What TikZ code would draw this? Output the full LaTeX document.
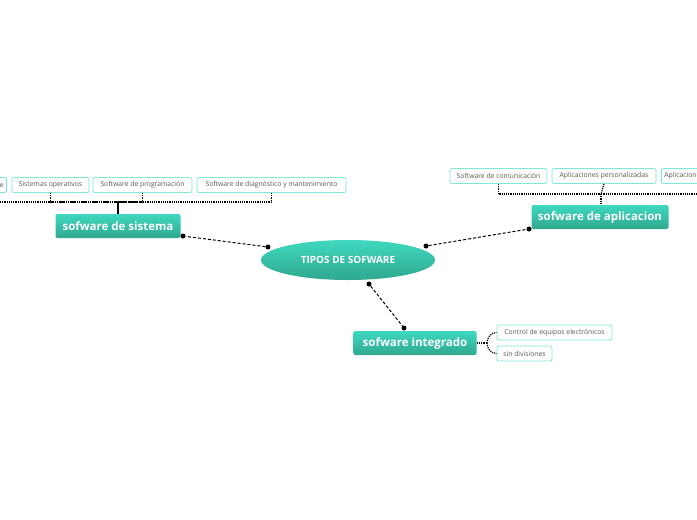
\documentclass[tikz,border=0pt]{standalone}
\usepackage{fontspec}
\setmainfont{Open Sans}
\usetikzlibrary{shapes.geometric,shadows}
\definecolor{tq}{HTML}{3FD8C0}
\definecolor{tqd}{HTML}{2FA88E}
\definecolor{tql}{HTML}{7FE8D8}
\tikzset{
 main/.style={rounded corners=2pt,top color=tq,bottom color=tqd,draw=none,text=white,font=\bfseries\fontsize{11.5}{12}\selectfont,minimum height=24pt,inner xsep=5pt},
 leaf/.style={rounded corners=2pt,draw=tql,line width=0.8pt,fill=white,text=black!65,font=\fontsize{6.8}{7}\selectfont,minimum height=15pt,inner xsep=3pt},
 link/.style={densely dashed,line width=1pt,black},
 brk/.style={densely dotted,line width=1.2pt,black},
 dot/.style={circle,fill=black,inner sep=0pt,minimum size=5pt}
}
\begin{document}
\begin{tikzpicture}[x=1pt,y=-1pt]
\useasboundingbox (0,0) rectangle (697,520);
\clip (0,0) rectangle (697,520);
\node[ellipse,top color=tq,bottom color=tqd,minimum width=174pt,minimum height=40pt,text=white,font=\bfseries\fontsize{10}{11}\selectfont] (c) at (348,260) {TIPOS DE SOFWARE};
\node[main,minimum width=125pt] (s) at (118,226) {sofware de sistema};
\node[main,minimum width=137pt] (a) at (600,217) {sofware de aplicacion};
\node[main,minimum width=123pt] (i) at (415,343) {sofware integrado};
% leaves sistema
\node[leaf,anchor=east] (s0) at (7,185) {Software de base};
\node[leaf,minimum width=77pt] (s1) at (50.5,185) {Sistemas operativos};
\node[leaf,minimum width=99pt] (s2) at (142.5,185) {Software de programación};
\node[leaf,minimum width=149pt] (s3) at (271.5,185) {Software de diagnóstico y mantenimiento};
% leaves aplicacion
\node[leaf,minimum width=97pt] (a1) at (498.5,176) {Software de comunicación};
\node[leaf,minimum width=104pt] (a2) at (604,176) {Aplicaciones personalizadas};
\node[leaf,anchor=west] (a3) at (661,176) {Aplicaciones de ofimática};
% leaves integrado
\node[leaf,minimum width=115pt] (i1) at (554.5,332.5) {Control de equipos electrónicos};
\node[leaf,minimum width=55pt] (i2) at (524.5,353.5) {sin divisiones};
% brackets
\coordinate (sb) at (118,202);
\draw[brk] (s1.south) |- (sb);
\draw[brk] (s2.south) |- (sb);
\draw[brk] (s3.south) |- (sb);
\draw[brk] (0,202) -- (sb);
\draw[line width=1.2pt] (sb) -- (s.north);
\coordinate (ab) at (601,194);
\draw[brk] (a1.south) |- (ab);
\draw[brk] (a2.south) -- (ab);
\draw[brk] (697,194) -- (ab);
\draw[brk] (ab) -- (a.north -| ab);
\coordinate (ib) at (487,343);
\draw[brk] (i.east) -- (ib);
\draw[brk] (ib) to[out=90,in=180] (i1.west);
\draw[brk] (ib) to[out=-90,in=180] (i2.west);
% links
\node[dot] (d1) at (268,247) {}; \node[dot] (d2) at (183,236) {};
\node[dot] (d3) at (426,246) {}; \node[dot] (d4) at (529,229) {};
\node[dot] (d5) at (369,284) {}; \node[dot] (d6) at (404,328) {};
\draw[link] (d1) -- (d2);
\draw[link] (d3) -- (d4);
\draw[link] (d5) -- (d6);
\end{tikzpicture}
\end{document}
